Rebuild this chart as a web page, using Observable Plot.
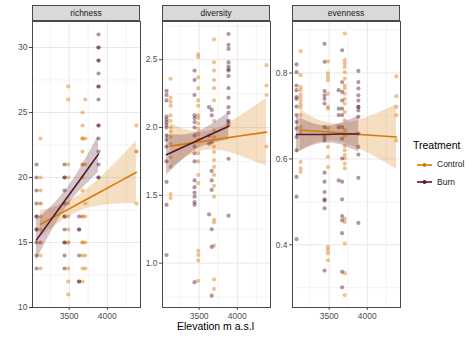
<!DOCTYPE html>
<html><head><meta charset="utf-8">
<script src="https://cdn.jsdelivr.net/npm/d3@7"></script>
<script src="https://cdn.jsdelivr.net/npm/@observablehq/plot@0.6"></script>
<style>
body{margin:0;background:#fff;}
#chart{position:relative;width:474px;height:338px;font-family:"Liberation Sans",Arial,sans-serif;overflow:hidden;background:#fff}
.panel{position:absolute;top:0}
.strip{position:absolute;top:5px;height:16px;width:108px;box-sizing:border-box;background:#d9d9d9;border:1px solid #4a4a4a;font-size:8.5px;color:#1a1a1a;text-align:center;line-height:14px}
.xtitle{position:absolute;top:320px;left:0;width:431px;text-align:center;font-size:10.5px;color:#000}
.legtitle{position:absolute;left:413px;top:139px;font-size:10.5px;color:#000}
.legitem{position:absolute;left:417px;font-size:8.5px;color:#1a1a1a;height:14px;line-height:14px;white-space:nowrap}
.legitem svg{vertical-align:middle;margin-right:5px}
</style></head>
<body><div id="chart"></div>
<script>
// ---------- data ----------
const facets = ["richness", "diversity", "evenness"];
const treatments = ["Control", "Burn"];
const colors = ["#d77a0a", "#561828"];
const xTicks = [3500, 4000];
const xMinor = [3250, 3750, 4250];

// points: [elevation, values at that elevation]
const richnessBurn = [
  [3073, [21,20,19,18,17,17,16,16,15,14,13]],
  [3440, [21,20,20,19,18,17,17,16,15,15,14,13]],
  [3630, [17,16,16,14,12,12]],
  [3885, [31,30,30,29,29,28,27,27,26,24,24,23,22,21,20,20]]
];
const richnessControl = [
  [3126, [23,20,19,18,18,17,16,15,15,14,13]],
  [3488, [27,26,21,20,18,17,16,15,15,13,12,11]],
  [3675, [25,24,23,23,22,21,21,20,19,17,17,15,15,14,13,12]],
  [3712, [26,23,21,18,17,15,14,13]],
  [4382, [24,22,22,18]]
];
const diversityBurn = [
  [3073, [2.27,2.24,2.20,2.08,2.06,2.04,2.02,2.00,1.94,1.91,1.86,1.75,1.60,1.43,1.06]],
  [3440, [2.42,2.35,2.24,2.09,2.07,2.04,2.00,1.94,1.86,1.81,1.75,1.61,1.56,1.52,1.49,1.45,1.43,0.86]],
  [3630, [2.15,1.94,1.88,1.36]],
  [3665, [2.13,2.09,1.89,1.68,1.61,1.54,1.25,1.12,0.76]],
  [3885, [2.69,2.61,2.58,2.48,2.45,2.43,2.42,2.38,2.29,2.22,2.15,2.11,2.05,2.04,2.02,1.77,1.35]]
];
const diversityControl = [
  [3126, [2.36,2.22,2.19,2.16,2.09,2.05,2.00,1.97,1.93,1.88,1.78,1.71,1.51,1.48]],
  [3488, [2.54,2.52,2.37,2.29,2.20,2.16,2.09,2.07,2.03,1.99,1.95,1.91,1.81,1.75,1.65,1.59,1.09,1.06,1.02,0.87]],
  [3695, [2.65,2.48,2.42,2.35,2.29,2.20,2.05,1.98,1.93,1.86,1.82,1.76,1.71,1.65,1.57,1.49,1.32,1.30,1.13,0.88,0.81]],
  [4382, [2.46,2.31,2.24,1.86]]
];
const evennessBurn = [
  [3073, [0.820,0.802,0.771,0.760,0.744,0.740,0.722,0.702,0.686,0.671,0.651,0.620,0.558,0.512,0.413]],
  [3440, [0.868,0.826,0.758,0.748,0.740,0.729,0.674,0.651,0.643,0.568,0.547,0.523,0.506,0.503,0.485,0.340]],
  [3625, [0.760,0.717,0.702,0.674,0.550]],
  [3670, [0.853,0.779,0.756,0.736,0.717,0.702,0.674,0.647,0.601,0.547,0.506,0.467,0.457,0.427,0.337,0.301]],
  [3883, [0.805,0.779,0.764,0.748,0.736,0.721,0.721,0.713,0.698,0.659,0.628,0.610,0.556,0.451]]
];
const evennessControl = [
  [3126, [0.851,0.795,0.767,0.760,0.750,0.743,0.735,0.727,0.720,0.702,0.674,0.663,0.593,0.578,0.570]],
  [3484, [0.827,0.799,0.791,0.783,0.752,0.721,0.717,0.671,0.628,0.605,0.581,0.395,0.388,0.380,0.364]],
  [3705, [0.892,0.830,0.822,0.814,0.802,0.787,0.771,0.764,0.752,0.740,0.729,0.709,0.690,0.667,0.655,0.630,0.620,0.609,0.601,0.589,0.578,0.461,0.453,0.403,0.334,0.283]],
  [4380, [0.792,0.746,0.721,0.702,0.643]]
];

// fitted lines with 95% bands: [elevation, fit, lower, upper]
const richnessFitBurn = [[3072,15.2,13.6,16.8],[3200,16.24,15.09,17.39],[3350,17.46,16.66,18.26],[3500,18.68,17.98,19.38],[3650,19.89,19.04,20.74],[3800,21.11,19.91,22.31],[3885,21.8,20.4,23.2]];
const richnessFitControl = [[3125,16.4,15.4,17.4],[3300,16.96,16.21,17.71],[3500,17.59,16.99,18.19],[3700,18.23,17.53,18.93],[3900,18.87,17.82,19.92],[4150,19.66,17.96,21.36],[4381,20.4,18.0,22.8]];
const diversityFitBurn = [[3072,1.80,1.65,1.95],[3250,1.845,1.745,1.945],[3450,1.897,1.832,1.962],[3650,1.949,1.879,2.019],[3888,2.01,1.91,2.11]];
const diversityFitControl = [[3122,1.863,1.693,2.033],[3300,1.878,1.768,1.988],[3550,1.898,1.828,1.968],[3800,1.918,1.828,2.008],[4050,1.939,1.789,2.089],[4382,1.966,1.716,2.216]];
const evennessFitBurn = [[3072,0.657,0.614,0.700],[3250,0.657,0.629,0.685],[3450,0.657,0.637,0.677],[3650,0.658,0.633,0.683],[3888,0.658,0.616,0.700]];
const evennessFitControl = [[3122,0.667,0.617,0.717],[3300,0.665,0.635,0.695],[3550,0.662,0.642,0.682],[3800,0.658,0.630,0.686],[4050,0.655,0.610,0.700],[4382,0.651,0.576,0.726]];

const yTicks = [[10,15,20,25,30],[1.0,1.5,2.0,2.5],[0.4,0.6,0.8]];
const yMinor = [[12.5,17.5,22.5,27.5],[0.75,1.25,1.75,2.25,2.75],[0.3,0.5,0.7,0.9]];
const yDomains = [[10,32],[0.673,2.782],[0.254,0.92]];
const yFormats = [d3.format("d"), d3.format(".1f"), d3.format(".1f")];
const xTitle = "Elevation m a.s.l";
const legendTitle = "Treatment";

// ---------- build ----------
const pointSets = [[richnessControl, richnessBurn],[diversityControl, diversityBurn],[evennessControl, evennessBurn]];
const fitSets = [[richnessFitControl, richnessFitBurn],[diversityFitControl, diversityFitBurn],[evennessFitControl, evennessFitBurn]];
const flat = (cols, t) => cols.flatMap(([e, vals]) => vals.map(v => ({elev: e, value: v, t})));
const fitRows = (rows, t) => rows.map(([e, f, lo, hi]) => ({elev: e, fit: f, lo, hi, t}));

const chart = document.getElementById("chart");
const panelLefts = [32, 162, 292];
const mL = 30, mR = 4, pw = 108;

facets.forEach((name, i) => {
  const pts = [...flat(pointSets[i][0], 0), ...flat(pointSets[i][1], 1)];
  const fitC = fitRows(fitSets[i][0], 0), fitB = fitRows(fitSets[i][1], 1);
  const svg = Plot.plot({
    width: mL + pw + mR, height: 338,
    marginLeft: mL, marginRight: mR, marginTop: 21, marginBottom: 31,
    style: {background: "none", fontFamily: "'Liberation Sans', Arial, sans-serif", fontSize: "8.5px", color: "#4d4d4d", overflow: "visible"},
    x: {domain: [3020, 4435], ticks: xTicks, tickSize: 3, tickPadding: 2, label: null, tickFormat: d3.format("d")},
    y: {domain: yDomains[i], ticks: yTicks[i], tickSize: 3, tickPadding: 2, label: null, tickFormat: yFormats[i]},
    marks: [
      Plot.ruleX(xMinor, {stroke: "#ededed", strokeWidth: 0.6}),
      Plot.ruleY(yMinor[i], {stroke: "#ededed", strokeWidth: 0.6}),
      Plot.ruleX(xTicks, {stroke: "#e8e8e8", strokeWidth: 1}),
      Plot.ruleY(yTicks[i], {stroke: "#e8e8e8", strokeWidth: 1}),
      Plot.dot(pts, {x: "elev", y: "value", r: 2.1, fill: d => colors[d.t], fillOpacity: 0.45, stroke: "none"}),
      Plot.areaY(fitC, {x: "elev", y1: "lo", y2: "hi", fill: colors[0], fillOpacity: 0.25, curve: "natural"}),
      Plot.areaY(fitB, {x: "elev", y1: "lo", y2: "hi", fill: colors[1], fillOpacity: 0.25, curve: "natural"}),
      Plot.line(fitC, {x: "elev", y: "fit", stroke: colors[0], strokeWidth: 1.6}),
      Plot.line(fitB, {x: "elev", y: "fit", stroke: colors[1], strokeWidth: 1.6}),
      Plot.frame({stroke: "#4a4a4a", strokeWidth: 1})
    ]
  });
  svg.classList.add("panel");
  svg.style.left = (panelLefts[i] - mL) + "px";
  chart.appendChild(svg);
  const strip = document.createElement("div");
  strip.className = "strip";
  strip.style.left = panelLefts[i] + "px";
  strip.textContent = name;
  chart.appendChild(strip);
});

const xt = document.createElement("div");
xt.className = "xtitle"; xt.textContent = xTitle;
chart.appendChild(xt);

const lt = document.createElement("div");
lt.className = "legtitle"; lt.textContent = legendTitle;
chart.appendChild(lt);
treatments.forEach((t, i) => {
  const it = document.createElement("div");
  it.className = "legitem";
  it.style.top = (157 + i * 17.5) + "px";
  it.innerHTML = `<svg width="15" height="10"><line x1="0" x2="15" y1="5" y2="5" stroke="${colors[i]}" stroke-width="1.6"/><circle cx="7.5" cy="5" r="1.9" fill="${colors[i]}"/></svg>${t}`;
  chart.appendChild(it);
});
</script>
</body></html>
